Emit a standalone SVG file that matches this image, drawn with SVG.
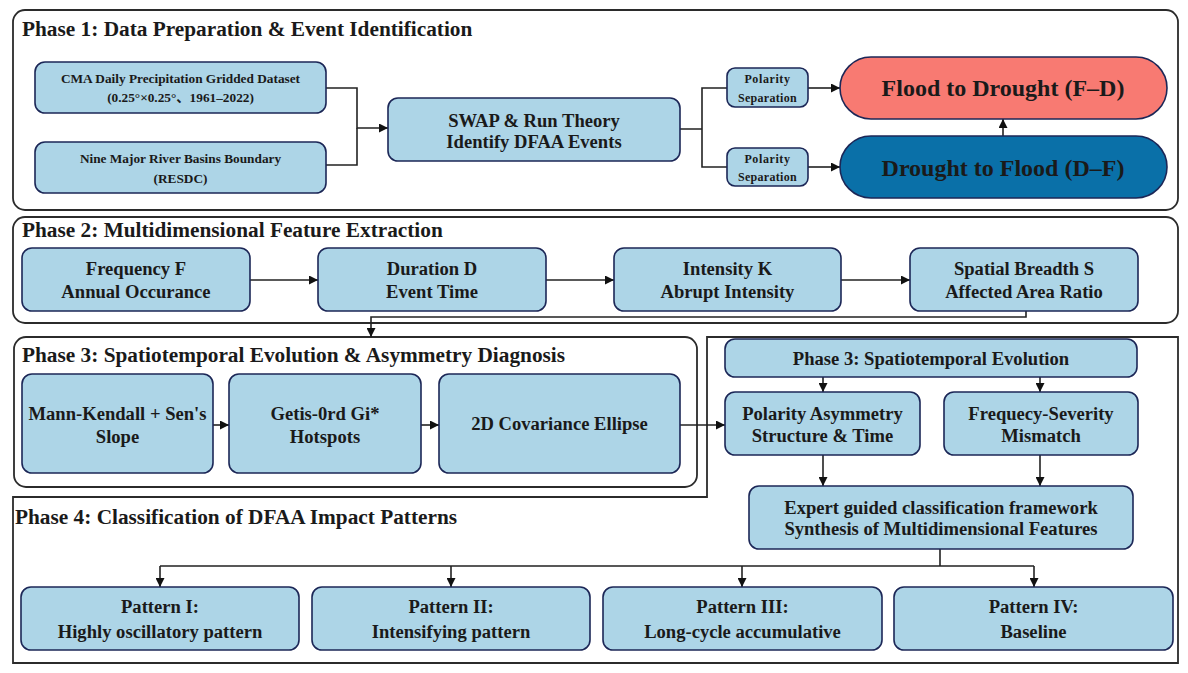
<svg xmlns="http://www.w3.org/2000/svg" width="1188" height="673" viewBox="0 0 1188 673">
<style>
.ct{fill:none;stroke:#2b2b2b;stroke-width:1.8}
.bx{fill:#ADD5E7;stroke:#1C2757;stroke-width:1.6}
.t{font-family:"Liberation Serif","Times New Roman","Noto Sans CJK SC",serif;font-weight:bold;fill:#1a1a1a;text-anchor:middle}
.h{font-family:"Liberation Serif","Times New Roman",serif;font-weight:bold;fill:#1a1a1a;font-size:21.3px}
.s12{font-size:12px}
.s13{font-size:13.3px}
.s16{font-size:18.6px}
.s17{font-size:18.6px}
.s22{font-size:24px}
.cn{fill:none;stroke:#222;stroke-width:1.6}
</style>
<defs>
<marker id="ah" viewBox="0 0 10 10" refX="10" refY="5" markerWidth="9" markerHeight="9" orient="auto" markerUnits="userSpaceOnUse"><path d="M0,0 L10,5 L0,10 z" fill="#111"/></marker>
</defs>
<rect width="1188" height="673" fill="#fff"/>

<g id="containers">
<rect class="ct" x="13" y="10" width="1165" height="200" rx="12"/>
<rect class="ct" x="13" y="217" width="1165" height="106" rx="12"/>
<rect class="ct" x="14" y="337" width="683" height="150" rx="12"/>
<path class="ct" d="M707,497 V337 H1178 V663 H13 V497 Z"/>
<text class="h" x="22" y="36">Phase 1: Data Preparation &amp; Event Identification</text>
<text class="h" x="22" y="237">Phase 2: Multidimensional Feature Extraction</text>
<text class="h" x="22" y="362">Phase 3: Spatiotemporal Evolution &amp; Asymmetry Diagnosis</text>
<text class="h" x="15" y="524">Phase 4: Classification of DFAA Impact Patterns</text>
</g>

<g id="connectors">
<path class="cn" d="M326,88 H357 V128 H388" marker-end="url(#ah)"/>
<path class="cn" d="M326,165 H357 V128"/>
<path class="cn" d="M680,129 H702 V88 H727 M702,129 V167 H727"/>
<path class="cn" d="M808,88 H840" marker-end="url(#ah)"/>
<path class="cn" d="M808,167 H840" marker-end="url(#ah)"/>
<path class="cn" d="M1003,136 V119" marker-end="url(#ah)"/>
<path class="cn" d="M250,280 H318" marker-end="url(#ah)"/>
<path class="cn" d="M546,280 H614" marker-end="url(#ah)"/>
<path class="cn" d="M841,280 H910" marker-end="url(#ah)"/>
<path class="cn" d="M1026,311 V317 H371 V337" marker-end="url(#ah)"/>
<path class="cn" d="M213,425 H229" marker-end="url(#ah)"/>
<path class="cn" d="M421,425 H439" marker-end="url(#ah)"/>
<path class="cn" d="M680,425 H725" marker-end="url(#ah)"/>
<path class="cn" d="M823,377 V392" marker-end="url(#ah)"/>
<path class="cn" d="M1040,377 V392" marker-end="url(#ah)"/>
<path class="cn" d="M823,455 V486" marker-end="url(#ah)"/>
<path class="cn" d="M1040,455 V486" marker-end="url(#ah)"/>
<path class="cn" d="M940,549 V566 M160,566 H1034"/>
<path class="cn" d="M160,566 V587" marker-end="url(#ah)"/>
<path class="cn" d="M451,566 V587" marker-end="url(#ah)"/>
<path class="cn" d="M742,566 V587" marker-end="url(#ah)"/>
<path class="cn" d="M1034,566 V587" marker-end="url(#ah)"/>
</g>

<g id="n-cma">
<rect class="bx" x="35" y="62" width="291" height="51" rx="10"/>
<text class="t s13" x="180.5" y="83">CMA Daily Precipitation Gridded Dataset</text>
<text class="t s13" x="180.5" y="102">(0.25°×0.25°、1961–2022)</text>
</g>
<g id="n-basins">
<rect class="bx" x="35" y="142" width="291" height="51" rx="10"/>
<text class="t s13" x="180.5" y="163">Nine Major River Basins Boundary</text>
<text class="t s13" x="180.5" y="183">(RESDC)</text>
</g>
<g id="n-swap">
<rect class="bx" x="388" y="98" width="292" height="63" rx="10"/>
<text class="t s17" x="534" y="127">SWAP &amp; Run Theory</text>
<text class="t s17" x="534" y="148">Identify DFAA Events</text>
</g>
<g id="n-pol1">
<rect class="bx" x="727" y="68" width="81" height="39" rx="8"/>
<text class="t s12" x="767.5" y="83" letter-spacing="0.6">Polarity</text>
<text class="t s12" x="767.5" y="102" letter-spacing="0.3">Separation</text>
</g>
<g id="n-pol2">
<rect class="bx" x="727" y="148" width="81" height="38" rx="8"/>
<text class="t s12" x="767.5" y="163" letter-spacing="0.6">Polarity</text>
<text class="t s12" x="767.5" y="181" letter-spacing="0.3">Separation</text>
</g>
<g id="n-fd">
<rect x="840" y="57" width="327" height="62" rx="31" fill="#F87A72" stroke="#1C2757" stroke-width="1.6"/>
<text class="t s22" x="1003" y="96">Flood to Drought (F–D)</text>
</g>
<g id="n-df">
<rect x="840" y="136" width="327" height="62" rx="31" fill="#0A70A8" stroke="#1C2757" stroke-width="1.6"/>
<text class="t s22" x="1003" y="176">Drought to Flood (D–F)</text>
</g>

<g id="n-freq">
<rect class="bx" x="22" y="248" width="228" height="63" rx="10"/>
<text class="t s16" x="136" y="275">Frequency F</text>
<text class="t s16" x="136" y="298">Annual Occurance</text>
</g>
<g id="n-dur">
<rect class="bx" x="318" y="248" width="228" height="63" rx="10"/>
<text class="t s16" x="432" y="275">Duration D</text>
<text class="t s16" x="432" y="298">Event Time</text>
</g>
<g id="n-int">
<rect class="bx" x="614" y="248" width="227" height="63" rx="10"/>
<text class="t s16" x="727.5" y="275">Intensity K</text>
<text class="t s16" x="727.5" y="298">Abrupt Intensity</text>
</g>
<g id="n-spa">
<rect class="bx" x="910" y="248" width="228" height="63" rx="10"/>
<text class="t s16" x="1024" y="275">Spatial Breadth S</text>
<text class="t s16" x="1024" y="298">Affected Area Ratio</text>
</g>

<g id="n-mk">
<rect class="bx" x="22" y="374" width="191" height="99" rx="10"/>
<text class="t s16" x="117.5" y="420">Mann-Kendall + Sen's</text>
<text class="t s16" x="117.5" y="443">Slope</text>
</g>
<g id="n-getis">
<rect class="bx" x="229" y="374" width="192" height="99" rx="10"/>
<text class="t s16" x="325" y="420">Getis-0rd Gi*</text>
<text class="t s16" x="325" y="443">Hotspots</text>
</g>
<g id="n-ellipse">
<rect class="bx" x="439" y="374" width="241" height="99" rx="10"/>
<text class="t s16" x="559.5" y="430">2D Covariance Ellipse</text>
</g>

<g id="n-p3evo">
<rect class="bx" x="725" y="339" width="412" height="38" rx="10"/>
<text class="t s16" x="931" y="365">Phase 3: Spatiotemporal Evolution</text>
</g>
<g id="n-polasym">
<rect class="bx" x="725" y="392" width="195" height="63" rx="10"/>
<text class="t s16" x="822.5" y="420">Polarity Asymmetry</text>
<text class="t s16" x="822.5" y="442">Structure &amp; Time</text>
</g>
<g id="n-fsm">
<rect class="bx" x="944" y="392" width="194" height="63" rx="10"/>
<text class="t s16" x="1041" y="420">Frequecy-Severity</text>
<text class="t s16" x="1041" y="442">Mismatch</text>
</g>
<g id="n-expert">
<rect class="bx" x="749" y="486" width="384" height="63" rx="10"/>
<text class="t s16" x="941" y="514">Expert guided classification framework</text>
<text class="t s16" x="941" y="535">Synthesis of Multidimensional Features</text>
</g>

<g id="n-pat1">
<rect class="bx" x="21" y="587" width="278" height="63" rx="10"/>
<text class="t s16" x="160" y="613">Pattern I:</text>
<text class="t s16" x="160" y="638">Highly oscillatory pattern</text>
</g>
<g id="n-pat2">
<rect class="bx" x="312" y="587" width="278" height="63" rx="10"/>
<text class="t s16" x="451" y="613">Pattern II:</text>
<text class="t s16" x="451" y="638">Intensifying pattern</text>
</g>
<g id="n-pat3">
<rect class="bx" x="603" y="587" width="279" height="63" rx="10"/>
<text class="t s16" x="742.5" y="613">Pattern III:</text>
<text class="t s16" x="742.5" y="638">Long-cycle accumulative</text>
</g>
<g id="n-pat4">
<rect class="bx" x="894" y="587" width="279" height="63" rx="10"/>
<text class="t s16" x="1033.5" y="613">Pattern IV:</text>
<text class="t s16" x="1033.5" y="638">Baseline</text>
</g>
</svg>
